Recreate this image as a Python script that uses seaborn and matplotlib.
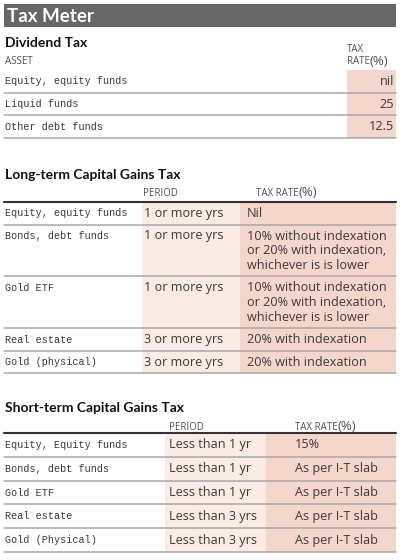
import matplotlib
matplotlib.use("Agg")
import matplotlib.pyplot as plt
import seaborn as sns

# Table contents
title = "Tax Meter"

div_heading = "Dividend Tax"
div_assets = ["Equity, equity funds", "Liquid funds", "Other debt funds"]
div_rates = ["nil", "25", "12.5"]

lt_heading = "Long-term Capital Gains Tax"
lt_assets = ["Equity, equity funds", "Bonds, debt funds", "Gold ETF",
             "Real estate", "Gold (physical)"]
lt_periods = ["1 or more yrs", "1 or more yrs", "1 or more yrs",
              "3 or more yrs", "3 or more yrs"]
lt_rates = ["Nil",
            "10% without indexation\nor 20% with indexation,\nwhichever is is lower",
            "10% without indexation\nor 20% with indexation,\nwhichever is is lower",
            "20% with indexation", "20% with indexation"]

st_heading = "Short-term Capital Gains Tax"
st_assets = ["Equity, Equity funds", "Bonds, debt funds", "Gold ETF",
             "Real estate", "Gold (Physical)"]
st_periods = ["Less than 1 yr", "Less than 1 yr", "Less than 1 yr",
              "Less than 3 yrs", "Less than 3 yrs"]
st_rates = ["15%", "As per I-T slab", "As per I-T slab",
            "As per I-T slab", "As per I-T slab"]

sns.set_theme(style="white")
plt.rcParams['font.family'] = ['Open Sans', 'DejaVu Sans']

shade_dark = "#f4d6cb"
shade_light = "#fbebe5"
line_grey = "#a8a8a8"
mono = "Liberation Mono"
head_font = "Lato"
small_col = "#505050"

fig = plt.figure(figsize=(4, 5.6), dpi=100)
ax = fig.add_axes([0, 0, 1, 1])
ax.set_xlim(0, 400)
ax.set_ylim(560, 0)
ax.axis("off")
renderer = fig.canvas.get_renderer()

X0, X1 = 4, 396
LINE_H = 14.7


def rate_header(x, y, label="TAX RATE"):
    # small caps label with a bigger "(%)" right after it
    t = ax.text(x, y, label, fontsize=7, color=small_col, va="baseline")
    bb = t.get_window_extent(renderer=renderer)
    x_end = ax.transData.inverted().transform((bb.x1, bb.y0))[0]
    ax.text(x_end, y + 0.5, "(%)", fontsize=9.5, color=small_col, va="baseline")


def row_heights(labels, base):
    return [base + LINE_H * (lab.count("\n")) for lab in labels]


def draw_rows(top, assets, cols, col_x, text_x, shades, base_h):
    heights = row_heights(cols[-1], base_h)
    bottom = top + sum(heights)
    # shaded columns
    for (xa, xb), c in zip(col_x, shades):
        ax.fill_between([xa, xb], top, bottom, color=c, lw=0, zorder=0)
    y = top
    for i, h in enumerate(heights):
        multi = cols[-1][i].count("\n") > 0
        yc = y + (11.5 if multi else h / 2)
        ax.text(5, yc, assets[i], family=mono, fontsize=7.3,
                color="#3a3a3a", va="center")
        for col, tx in zip(cols, text_x):
            for j, line in enumerate(col[i].split("\n")):
                ax.text(tx, yc + j * LINE_H, line, fontsize=9.1,
                        color="#3a3a3a", va="center")
        y += h
        ax.plot([X0, X1], [y, y], color=line_grey, lw=1.1, zorder=2)
    return bottom


# title bar
ax.fill_between([X0, X1], 4, 27, color="#676767", lw=0)
ax.text(7, 16, title, family=head_font, fontsize=13.5, color="white",
        fontweight="bold", va="center")

# Dividend tax
ax.text(5, 43, div_heading, family=head_font, fontsize=10,
        fontweight="bold", color="#111111", va="center")
ax.text(5, 61, "ASSET", fontsize=7, color=small_col, va="center")
ax.text(347, 49, "TAX", fontsize=7, color=small_col, va="center")
rate_header(347, 64.5, "RATE")
top = 70
h = 22.7
ax.fill_between([347, X1], top, top + h * len(div_rates), color=shade_dark,
                lw=0, zorder=0)
for i, (a, r) in enumerate(zip(div_assets, div_rates)):
    yc = top + h * i + h / 2
    ax.text(5, yc, a, family=mono, fontsize=7.3, color="#3a3a3a", va="center")
    ax.text(394, yc, r, fontsize=9.1, color="#3a3a3a", va="center", ha="right")
    ax.plot([X0, X1], [top + h * (i + 1)] * 2, color=line_grey, lw=1.1)

# Long-term capital gains
ax.text(5, 175, lt_heading, family=head_font, fontsize=10,
        fontweight="bold", color="#111111", va="center")
ax.text(143, 193, "PERIOD", fontsize=7, color=small_col, va="center")
rate_header(256, 196)
ax.plot([X0, X1], [202, 202], color="#333333", lw=1.5, zorder=3)
draw_rows(202, lt_assets, [lt_periods, lt_rates],
          [(142, 240), (240, X1)], [144, 247], [shade_light, shade_dark], 22.5)

# Short-term capital gains
ax.text(5, 408, st_heading, family=head_font, fontsize=10,
        fontweight="bold", color="#111111", va="center")
ax.text(169, 427, "PERIOD", fontsize=7, color=small_col, va="center")
rate_header(295, 430)
ax.plot([X0, X1], [433, 433], color="#333333", lw=1.5, zorder=3)
draw_rows(433, st_assets, [st_periods, st_rates],
          [(165, 266), (266, X1)], [169, 295], [shade_light, shade_dark], 23.8)

fig.savefig("out.png", dpi=100)
